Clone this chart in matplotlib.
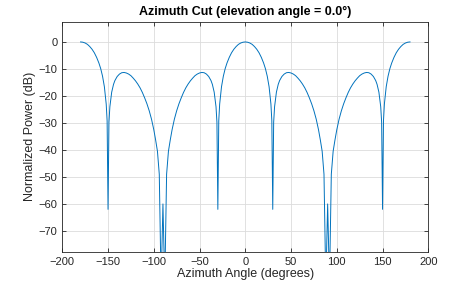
import matplotlib
matplotlib.use('Agg')
import matplotlib.pyplot as plt

# azimuth cut, values (deg, dB)
azimuth = [-180, -177.5, -175, -172.5, -170, -167.5, -165, -162.5, -160, -158, -156, -154, -152, -151,
           -150, -149, -148, -146, -144, -142.5, -140, -137.5, -135, -132.5, -130, -127.5, -125, -122.5,
           -120, -117.5, -115, -112.5, -110, -107.5, -105, -102.5, -100, -98, -96, -94, -92,
           -90, -88, -86, -84, -82, -80, -77.5, -75, -72.5, -70, -67.5, -65, -62.5, -60, -57.5, -55,
           -52.5, -50, -47.5, -45, -42.5, -40, -37.5, -36, -34, -32, -31,
           -30, -29, -28, -26, -24, -22, -20, -17.5, -15, -12.5, -10, -7.5, -5, -2.5,
           0, 2.5, 5, 7.5, 10, 12.5, 15, 17.5, 20, 22, 24, 26, 28, 29,
           30, 31, 32, 34, 36, 37.5, 40, 42.5, 45, 47.5, 50, 52.5, 55, 57.5, 60, 62.5, 65, 67.5,
           70, 72.5, 75, 77.5, 80, 82, 84, 86, 88,
           90, 92, 94, 96, 98, 100, 102.5, 105, 107.5, 110, 112.5, 115, 117.5, 120, 122.5, 125,
           127.5, 130, 132.5, 135, 137.5, 140, 142.5, 144, 146, 148, 149,
           150, 151, 152, 154, 156, 158, 160, 162.5, 165, 167.5, 170, 172.5, 175, 177.5, 180]
power_db = [0, -0.1, -0.4, -0.9, -1.7, -2.7, -4.0, -5.7, -7.8, -9.9, -12.7, -16.6, -23.0, -29.2,
            -62.0, -29.7, -24.0, -18.6, -15.7, -14.3, -12.8, -11.9, -11.4, -11.3, -11.5, -11.9, -12.5, -13.4,
            -14.4, -15.6, -17.0, -18.7, -20.7, -22.9, -25.5, -28.6, -32.5, -36.3, -40.5, -49.0, -90.0,
            -60.0, -90.0, -49.0, -40.5, -36.3, -32.5, -28.6, -25.5, -22.9, -20.7, -18.7, -17.0, -15.6, -14.4, -13.4, -12.5,
            -11.9, -11.5, -11.3, -11.4, -11.9, -12.8, -14.3, -15.7, -18.6, -24.0, -29.7,
            -62.0, -29.2, -23.0, -16.6, -12.7, -9.9, -7.8, -5.7, -4.0, -2.7, -1.7, -0.9, -0.4, -0.1,
            0, -0.1, -0.4, -0.9, -1.7, -2.7, -4.0, -5.7, -7.8, -9.9, -12.7, -16.6, -23.0, -29.2,
            -62.0, -29.7, -24.0, -18.6, -15.7, -14.3, -12.8, -11.9, -11.4, -11.3, -11.5, -11.9, -12.5, -13.4, -14.4, -15.6, -17.0, -18.7,
            -20.7, -22.9, -25.5, -28.6, -32.5, -36.3, -40.5, -49.0, -90.0,
            -60.0, -90.0, -49.0, -40.5, -36.3, -32.5, -28.6, -25.5, -22.9, -20.7, -18.7, -17.0, -15.6, -14.4, -13.4, -12.5,
            -11.9, -11.5, -11.3, -11.4, -11.9, -12.8, -14.3, -15.7, -18.6, -24.0, -29.7,
            -62.0, -29.2, -23.0, -16.6, -12.7, -9.9, -7.8, -5.7, -4.0, -2.7, -1.7, -0.9, -0.4, -0.1, 0]
x_ticks = [-200, -150, -100, -50, 0, 50, 100, 150, 200]
y_ticks = [0, -10, -20, -30, -40, -50, -60, -70]

plt.rcParams['font.family'] = ['Liberation Sans', 'DejaVu Sans']
dark = '#262626'

fig = plt.figure(figsize=(4.74, 2.85), dpi=100)
ax = fig.add_axes([0.1314, 0.1158, 0.7722, 0.8081])
ax.plot(azimuth, power_db, color='#0072BD', linewidth=0.7)

ax.set_xlim(-200, 200)
ax.set_ylim(-77.8, 7.5)
ax.set_xticks(x_ticks)
ax.set_yticks(y_ticks)
ax.grid(True, color='#dcdcdc', linewidth=0.6)
ax.set_axisbelow(True)
ax.tick_params(direction='in', length=3, width=0.6, colors=dark, labelsize=8,
               top=True, right=True)
for s in ax.spines.values():
    s.set_color(dark)
    s.set_linewidth(0.6)

ax.set_title('Azimuth Cut (elevation angle = 0.0°)', fontsize=9, fontweight='bold',
             color='black', pad=5)
ax.set_xlabel('Azimuth Angle (degrees)', fontsize=9, color=dark, labelpad=1)
ax.set_ylabel('Normalized Power (dB)', fontsize=9, color=dark, labelpad=2)

fig.savefig('out.png', dpi=100)
